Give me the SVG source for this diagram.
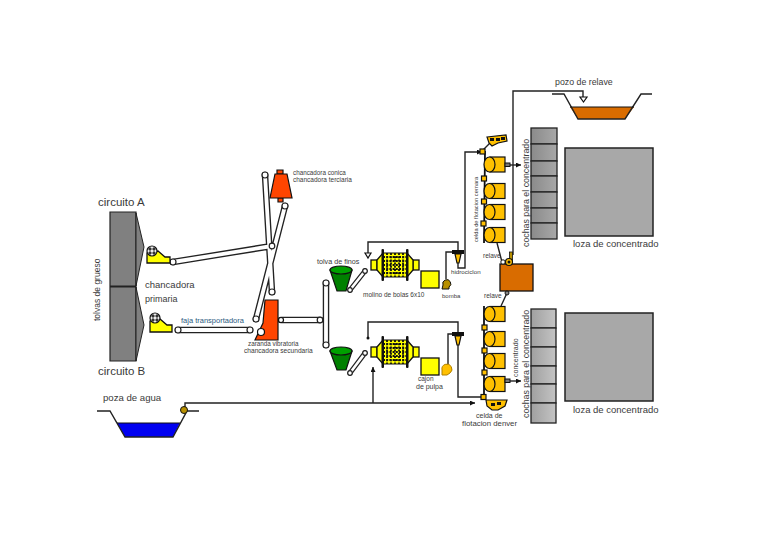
<svg xmlns="http://www.w3.org/2000/svg" width="768" height="544" viewBox="0 0 768 544">
<style>
text{font-family:"Liberation Sans",Arial,sans-serif;fill:#3a3a3a}
.k{fill:none;stroke:#222;stroke-width:1.4}
.bo{fill:none;stroke:#222;stroke-width:6.5;stroke-linecap:round}
.bi{fill:none;stroke:#fff;stroke-width:3.8;stroke-linecap:round}
.so{fill:none;stroke:#222;stroke-width:5;stroke-linecap:round}
.si{fill:none;stroke:#fff;stroke-width:2.6;stroke-linecap:round}
.p{fill:#fff;stroke:#222;stroke-width:1.2}
.w{fill:#fff;stroke:#111;stroke-width:1.2}
.y{fill:#ffff00;stroke:#111;stroke-width:1.3}
.o{fill:#ffc000;stroke:#111;stroke-width:1.2}
.g{fill:#008000;stroke:#111;stroke-width:1.2}
.r{fill:#ff4500;stroke:#111;stroke-width:1.2}
.c{fill:url(#gr);stroke:#222;stroke-width:1.3}
.c2{fill:url(#gr2);stroke:#222;stroke-width:1.3}
.l{fill:#a8a8a8;stroke:#222;stroke-width:1.5}
</style>
<defs>
<linearGradient id="gr"><stop offset="0" stop-color="#8a8a8a"/><stop offset="1" stop-color="#a8a8a8"/></linearGradient>
<linearGradient id="gr2"><stop offset="0" stop-color="#a0a0a0"/><stop offset="1" stop-color="#c4c4c4"/></linearGradient>
<marker id="a" markerUnits="userSpaceOnUse" markerWidth="6" markerHeight="6" refX="5" refY="2.500" orient="auto"><path d="M0 0L5 2.500L0 5Z" fill="#111"/></marker>
<g id="wheel"><circle r="5" fill="#fff" stroke="#111" stroke-width="1.2"/><circle cx="-2" cy="-2" r="1.7" fill="#333"/><circle cx="2" cy="-2" r="1.7" fill="#333"/><circle cx="-2" cy="2" r="1.7" fill="#333"/><circle cx="2" cy="2" r="1.7" fill="#333"/></g>
<g id="mill">
<rect x="-24" y="-5" width="6" height="10" class="y"/><rect x="18" y="-5" width="6" height="10" class="y"/>
<path d="M-18-5L-12-12V12L-18 5ZM18-5L12-12V12L18 5Z" class="y"/>
<rect x="-12" y="-12" width="24" height="24" fill="#ffff00" stroke="#111"/>
<path d="M-8-12V12M-4-12V12M0-12V12M4-12V12M8-12V12M-12-8H12M-12-4H12M-12 0H12M-12 4H12M-12 8H12" stroke="#111" stroke-width="1.8" stroke-dasharray="2 1.2"/>
<rect x="-13.500" y="-16" width="2.500" height="32" rx="1" fill="#111"/><rect x="11" y="-16" width="2.500" height="32" rx="1" fill="#111"/>
</g>
<g id="cell"><rect x="6" y="-7.500" width="15" height="15" class="o"/><ellipse cx="5.500" cy="0" rx="5.500" ry="7.500" class="o"/></g>
<g id="cyc"><path d="M-6-3H6V1H-6Z" fill="#111"/><path d="M-3 1H3L1 10H-1Z" class="o"/></g>
</defs>
<g id="connectors">
<g id="belts">
<path class="bo" d="M173 262L272 246M265 175L272 292M285 206L256 319M178 330H250M281 320H320M326 283V345"/>
<path class="bi" d="M173 262L272 246M265 175L272 292M285 206L256 319M178 330H250M281 320H320M326 283V345"/>
<path class="so" d="M350 290L365 271M350 373L365 353"/>
<path class="si" d="M350 290L365 271M350 373L365 353"/>
<g id="pulleys"><circle class="p" cx="173" cy="262" r="3"/><circle class="p" cx="272" cy="246" r="2.800"/><circle class="p" cx="265" cy="175" r="3"/><circle class="p" cx="272" cy="292" r="3"/><circle class="p" cx="285" cy="206" r="3"/><circle class="p" cx="256" cy="319" r="3"/><circle class="p" cx="178" cy="330" r="3"/><circle class="p" cx="250" cy="330" r="3"/><circle class="p" cx="320" cy="320" r="2.800"/><circle class="p" cx="326" cy="283" r="3"/><circle class="p" cx="326" cy="345" r="3"/><circle class="p" cx="350" cy="290" r="2.300"/><circle class="p" cx="365" cy="271" r="2.300"/><circle class="p" cx="350" cy="373" r="2.300"/><circle class="p" cx="365" cy="353" r="2.300"/></g>
</g>
<path class="k" d="M368 253V242H458V250"/>
<path class="k" d="M446 279V252H453"/>
<path class="k" d="M458 263V268H465V152H482" marker-end="url(#a)"/>
<path class="k" d="M368 338V322H458V332"/>
<path class="k" d="M448 365V334H453"/>
<path class="k" d="M458 345V397H481"/>
<path class="k" d="M185 410V403H475" marker-end="url(#a)"/>
<path class="k" d="M373 403V367" marker-end="url(#a)"/>
<path class="k" d="M513 255V91H583V97"/>
<path class="k" d="M505 165H521" marker-end="url(#a)"/>
<path class="k" d="M505 381H521" marker-end="url(#a)"/>
<path class="k" d="M497 243L502 262M507 293L501 306M482 151L490 143"/>
<path fill="none" stroke="#111" stroke-width="1.8" d="M485 151L484 243M484 306L484 397"/>
</g>
<g id="tolvas"><path d="M110 212H136V286H110Z M110 287H136V361H110Z" fill="#808080" stroke="#222" stroke-width="1.2"/><path d="M136 213L144 247L136 286ZM136 287L144 325L136 361Z" fill="#808080" stroke="#222"/></g>
<g id="chancadora-a"><path d="M147 263V253L158 251L165 257H170V263Z" class="y"/><use href="#wheel" x="152" y="251"/></g>
<g id="chancadora-b"><path d="M150 332V321L160 319L167 325H172V332Z" class="y"/><use href="#wheel" x="155" y="318"/></g>
<g id="cono"><path d="M277 174V170H283V174ZM278 198H283V202H278Z" class="r"/><path d="M275 174H287L292 198H270Z" class="r"/></g>
<g id="zaranda"><path d="M265 300H278V340H255L263 323Z" class="r"/><circle cx="261" cy="332" r="3.500" class="w"/><circle cx="281" cy="320" r="2.500" class="w"/></g>
<g id="molino-1"><use href="#mill" x="395" y="265"/><rect x="421" y="271" width="18" height="17" class="y"/><path d="M365 253H371L368 258Z" class="w"/></g>
<g id="molino-2"><use href="#mill" x="395" y="352"/><rect x="421" y="358" width="18" height="17" class="y"/><circle cx="368" cy="338" r="1.500" fill="#111"/></g>
<g id="tolva-1"><path d="M330 270L337 291H346L352 270Z" class="g"/><ellipse cx="341" cy="270" rx="11" ry="4" fill="#00a000" stroke="#111" stroke-width="1.2"/></g>
<g id="tolva-2"><path d="M330 351L337 370H346L352 351Z" class="g"/><ellipse cx="341" cy="351" rx="11" ry="4" fill="#00a000" stroke="#111" stroke-width="1.2"/></g>
<g id="hidrociclon-1"><use href="#cyc" x="458" y="253"/><path d="M443 285a4 4 0 1 1 6 2v2h-7Z" fill="#b89000" stroke="#111"/></g>
<g id="hidrociclon-2"><use href="#cyc" x="458" y="335"/><path d="M442 370a5 5 0 1 1 8 3l-3 2h-5Z" fill="#ffc000" stroke="#b08000"/></g>
<g id="celdas-1"><path d="M487 137L506 135L507 141L498 143L492 146L489 143Z" class="o"/><path d="M490 138H494V141H490ZM496 138H500V141H496ZM501 137H505V140H501Z" fill="#111"/><rect x="480" y="149" width="5" height="5" class="o"/><use href="#cell" x="484" y="164.500"/><use href="#cell" x="484" y="191"/><use href="#cell" x="484" y="212"/><use href="#cell" x="484" y="235"/><rect x="481.500" y="176" width="5" height="5" class="o"/><rect x="481.500" y="199" width="5" height="5" class="o"/><rect x="481" y="221" width="5" height="5" class="o"/><rect x="505" y="163" width="5" height="3.500" fill="#777" stroke="#111"/></g>
<g id="celdas-2"><use href="#cell" x="484" y="314"/><use href="#cell" x="484" y="339"/><use href="#cell" x="484" y="361"/><use href="#cell" x="484" y="384"/><rect x="482" y="325" width="5" height="5" class="o"/><rect x="482" y="348" width="5" height="5" class="o"/><rect x="482" y="370" width="5" height="5" class="o"/><rect x="481" y="394.500" width="5" height="5" class="o"/><rect x="505" y="379" width="5" height="3.500" fill="#777" stroke="#111"/><path d="M486 400H507L505 406L498 410H492L487 406Z" class="o"/><path d="M491 403H495V406H491ZM497 402H501V405H497Z" fill="#111"/></g>
<g id="tanque"><rect x="500" y="264" width="33" height="27" fill="#d96c00" stroke="#111" stroke-width="1.3"/><rect x="509.500" y="252" width="3" height="9" fill="#b89000" stroke="#111" stroke-width=".8"/><circle cx="509" cy="262" r="3.500" class="o"/><circle cx="509" cy="262" r="1.500" fill="#111"/><circle cx="503" cy="262" r="2.200" fill="#fff" stroke="#111"/><circle cx="507" cy="293" r="2" fill="#888" stroke="#111"/></g>
<g id="cochas-1"><rect x="531" y="128" width="26" height="16" class="c"/><rect x="531" y="144" width="26" height="17" class="c"/><rect x="531" y="161" width="26" height="15" class="c"/><rect x="531" y="176" width="26" height="16" class="c"/><rect x="531" y="192" width="26" height="16" class="c"/><rect x="531" y="208" width="26" height="15" class="c"/><rect x="531" y="223" width="26" height="16" class="c"/></g>
<g id="cochas-2"><rect x="531" y="309" width="25" height="19" class="c2"/><rect x="531" y="328" width="25" height="19" class="c2"/><rect x="531" y="347" width="25" height="19" class="c2"/><rect x="531" y="366" width="25" height="18" class="c2"/><rect x="531" y="384" width="25" height="19" class="c2"/><rect x="531" y="403" width="25" height="20" class="c2"/></g>
<g id="loza-1"><rect x="565" y="148" width="88" height="88" class="l"/></g>
<g id="loza-2"><rect x="565" y="313" width="88" height="88" class="l"/></g>
<g id="pozo-relave"><path d="M570 107H634L625 119H578Z" fill="#d96c00"/><path class="k" d="M552 94H564L578 119H625L641 94H652"/><path d="M570 107H634" stroke="#111"/><path d="M580 97H587L583.500 102Z" class="w"/></g>
<g id="poza-agua"><path d="M117 423H180L173 437H125Z" fill="#0000f0"/><path class="k" d="M97 411H110L125 437H173L187 411H199"/><path d="M117 423H180" stroke="#111"/><circle cx="184" cy="410" r="3.500" fill="#b89000" stroke="#111"/></g>
<g id="labels">
<text x="98" y="206" font-size="11.500">circuito A</text>
<text x="98" y="375" font-size="11.500">circuito B</text>
<text x="145" y="288" font-size="9.500">chancadora</text>
<text x="145" y="302" font-size="9">primaria</text>
<text x="181" y="323" font-size="7.500" style="fill:#2a5a80">faja transportadora</text>
<text x="248" y="346" font-size="6.300">zaranda vibratoria</text>
<text x="244" y="353" font-size="6.600">chancadora secundaria</text>
<text x="293" y="175" font-size="6.300">chancadora conica</text>
<text x="293" y="182" font-size="6.500">chancadora terciaria</text>
<text x="317" y="264" font-size="7.200">tolva de finos</text>
<text x="363" y="297" font-size="6.500">molino de bolas 6x10</text>
<text x="442" y="298" font-size="6">bomba</text>
<text x="451" y="274" font-size="6.200">hidrociclon</text>
<text x="418" y="381" font-size="6.500">cajon</text>
<text x="416" y="388.500" font-size="7">de pulpa</text>
<text x="476" y="418" font-size="7">celda de</text>
<text x="462" y="426" font-size="7.800">flotacion denver</text>
<text x="103" y="401" font-size="9.600">poza de agua</text>
<text x="555" y="85" font-size="8.800">pozo de relave</text>
<text x="573" y="247" font-size="9.500">loza de concentrado</text>
<text x="573" y="413" font-size="9.500">loza de concentrado</text>
<text x="483" y="258" font-size="6.500">relave</text>
<text x="484" y="298" font-size="6.500">relave</text>
<text font-size="8.500" transform="translate(100 321) rotate(-90)">tolvas de grueso</text>
<text font-size="5.700" transform="translate(478 242) rotate(-90)">celda de flotacion cernara</text>
<text font-size="8.800" transform="translate(529 247) rotate(-90)">cochas para el concentrado</text>
<text font-size="8.800" transform="translate(529 418) rotate(-90)">cochas para el concentrado</text>
<text font-size="7" transform="translate(518 377) rotate(-90)">concentrado</text>
</g>
</svg>
